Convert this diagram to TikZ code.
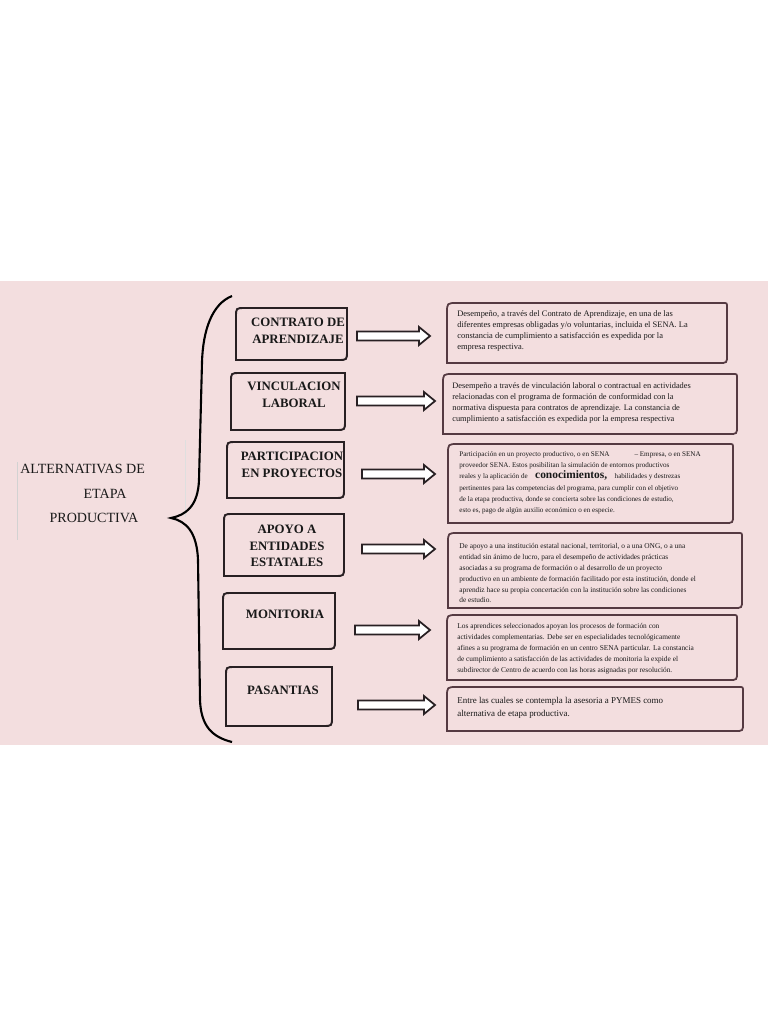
\documentclass[tikz,border=0pt]{standalone}
\usepackage{fontspec}
\setmainfont{Liberation Serif}
\usetikzlibrary{positioning}
\definecolor{MapaPink}{RGB}{243, 222, 223}
\definecolor{MapaLine}{RGB}{40, 32, 35}
\definecolor{MapaBrown}{RGB}{85, 58, 66}

\tikzset{
  tipo/.style={font=\fontsize{7.3}{9.5}\selectfont\bfseries, align=center, inner sep=0pt, text=black!90},
  desc/.style={anchor=north west, align=left, inner sep=0pt, text=black!90},
  flecha/.style={draw=MapaLine, fill=white, line width=1pt, line join=miter},
}

% box with rounded top-left and bottom-right corners (x1,y1,x2,y2 in px)
\newcommand{\cajatipo}[4]{%
  \draw[line width=1.1pt, MapaLine] (#1,#4) -- (#1,#2+9) .. controls (#1,#2) .. (#1+9,#2)
    -- (#3,#2) -- (#3,#4-9) .. controls (#3,#4) .. (#3-9,#4) -- cycle;}
% description box
\newcommand{\cajadesc}[4]{%
  \draw[line width=1pt, MapaBrown] (#1,#4) -- (#1,#2+10) .. controls (#1,#2) .. (#1+10,#2)
    -- (#3-4,#2) .. controls (#3,#2) .. (#3,#2+4) -- (#3,#4-8) .. controls (#3,#4) .. (#3-8,#4) -- cycle;}
% block arrow from x1 to x2 at height y
\newcommand{\flecha}[3]{%
  \draw[flecha] (#1,#3-4.5) -- (#2-11,#3-4.5) -- (#2-11,#3-9) -- (#2,#3) -- (#2-11,#3+9)
    -- (#2-11,#3+4.5) -- (#1,#3+4.5) -- cycle;}

\begin{document}
\begin{tikzpicture}[x=0.02cm, y=-0.02cm]

    \useasboundingbox (0,0) rectangle (768,1024);

    % --- Background ---
    \fill[MapaPink] (0,281) rectangle (768,745);

    % --- Title ---
    \draw[gray!35] (17,462) -- (17,540);
    \draw[gray!25] (185,440) -- (185,517);
    \node[font=\fontsize{8}{10}\selectfont, anchor=base west, inner sep=0pt, text=black!90] (titulo1) at (20,473) {ALTERNATIVAS DE};
    \node[font=\fontsize{8}{10}\selectfont, anchor=base, inner sep=0pt, text=black!90] (titulo2) at (105,498) {ETAPA};
    \node[font=\fontsize{8}{10}\selectfont, anchor=base, inner sep=0pt, text=black!90] (titulo3) at (94,522) {PRODUCTIVA};

    % --- Brace ---
    \draw[line width=1.2pt] (232,296) .. controls (212,304) and (203,330) .. (202,362)
        -- (199,480) .. controls (198,506) and (186,515) .. (171,518)
        .. controls (186,521) and (197,532) .. (198,560)
        -- (200,700) .. controls (201,726) and (212,737) .. (232,742);

    % --- Alternatives (left) ---
    \cajatipo{236}{308}{347}{360}
    \node[tipo] (contrato) at (298,331) {CONTRATO DE\\APRENDIZAJE};
    \cajatipo{231}{373}{345}{430}
    \node[tipo] (vinculacion) at (294,395) {VINCULACION\\LABORAL};
    \cajatipo{227}{442}{344}{498}
    \node[tipo] (participacion) at (292,465) {PARTICIPACION\\EN PROYECTOS};
    \cajatipo{224}{514}{344}{576}
    \node[tipo] (apoyo) at (287,546) {APOYO A\\ENTIDADES\\ESTATALES};
    \cajatipo{223}{593}{335}{649}
    \node[tipo] (monitoria) at (285,614) {MONITORIA};
    \cajatipo{226}{667}{332}{726}
    \node[tipo] (pasantias) at (283,690) {PASANTIAS};

    % --- Arrows ---
    \flecha{357}{430}{336}
    \flecha{357}{435}{401}
    \flecha{362}{435}{474}
    \flecha{362}{435}{549}
    \flecha{355}{430}{630}
    \flecha{358}{435}{705}

    % --- Descriptions (right) ---
    \cajadesc{447}{303}{727}{363}
    \node[desc, font=\fontsize{4.8}{6.4}\selectfont] (dcontrato) at (457,310) {Desempeño, a través del Contrato de Aprendizaje, en una de las\\diferentes empresas obligadas y/o voluntarias, incluida el SENA. La\\constancia de cumplimiento a satisfacción es expedida por la\\empresa respectiva.};

    \cajadesc{443}{374}{737}{434}
    \node[desc, font=\fontsize{4.75}{6.3}\selectfont] (dvinculacion) at (452,382) {Desempeño a través de vinculación laboral o contractual en actividades\\relacionadas con el programa de formación de conformidad con la\\normativa dispuesta para contratos de aprendizaje. La constancia de\\cumplimiento a satisfacción es expedida por la empresa respectiva};

    \cajadesc{448}{444}{733}{523}
    \node[desc, font=\fontsize{4.05}{6.4}\selectfont] (dparticipacion) at (459,451) {Participación en un proyecto productivo, o en SENA\hspace{5mm}– Empresa, o en SENA\\proveedor SENA. Estos posibilitan la simulación de entornos productivos\\reales y la aplicación de\hspace{1.5mm}{\fontsize{6.5}{6.4}\selectfont\bfseries conocimientos,}\hspace{1.5mm}habilidades y destrezas\\pertinentes para las competencias del programa, para cumplir con el objetivo\\de la etapa productiva, donde se concierta sobre las condiciones de estudio,\\esto es, pago de algún auxilio económico o en especie.};

    \cajadesc{448}{533}{742}{608}
    \node[desc, font=\fontsize{4.2}{6.2}\selectfont] (dapoyo) at (459,543) {De apoyo a una institución estatal nacional, territorial, o a una ONG, o a una\\entidad sin ánimo de lucro, para el desempeño de actividades prácticas\\asociadas a su programa de formación o al desarrollo de un proyecto\\productivo en un ambiente de formación facilitado por esta institución, donde el\\aprendiz hace su propia concertación con la institución sobre las condiciones\\de estudio.};

    \cajadesc{447}{615}{737}{680}
    \node[desc, font=\fontsize{4.2}{6.3}\selectfont] (dmonitoria) at (457,623) {Los aprendices seleccionados apoyan los procesos de formación con\\actividades complementarias. Debe ser en especialidades tecnológicamente\\afines a su programa de formación en un centro SENA particular. La constancia\\de cumplimiento a satisfacción de las actividades de monitoria la expide el\\subdirector de Centro de acuerdo con las horas asignadas por resolución.};

    \cajadesc{447}{687}{743}{731}
    \node[desc, font=\fontsize{5.1}{7.4}\selectfont] (dpasantias) at (457,697) {Entre las cuales se contempla la asesoria a PYMES como\\alternativa de etapa productiva.};

\end{tikzpicture}
\end{document}
